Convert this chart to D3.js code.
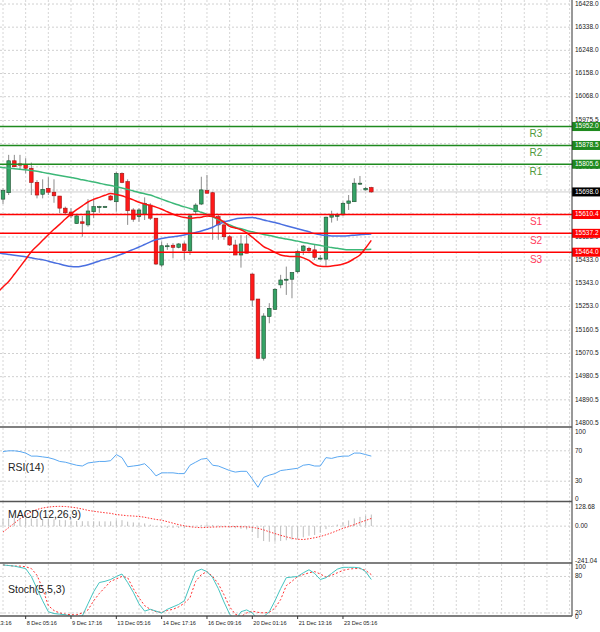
<!DOCTYPE html>
<html>
<head>
<meta charset="utf-8">
<script src="https://cdn.jsdelivr.net/npm/d3@7"></script>
<style>
  body { margin: 0; background: #fff; }
  svg { display: block; font-family: "Liberation Sans", Arial, sans-serif; }
</style>
</head>
<body>
<script>
// candles (one per bar, oldest first)
const candleOpen  = [15670, 15695, 15819, 15807, 15805, 15790, 15735, 15689, 15712, 15697, 15682, 15635, 15620, 15575, 15582, 15570, 15621, 15637, 15640, 15682, 15660, 15770, 15738, 15628, 15602, 15612, 15647, 15596, 15414, 15487, 15491, 15483, 15496, 15469, 15621, 15651, 15703, 15695, 15602, 15570, 15524, 15492, 15453, 15496, 15379, 15282, 15052, 15214, 15242, 15337, 15358, 15359, 15388, 15470, 15479, 15473, 15440, 15437, 15600, 15603, 15609, 15654, 15660, 15731, 15706, 15715];
const candleHigh  = [15712, 15842, 15842, 15842, 15829, 15812, 15744, 15747, 15755, 15747, 15682, 15641, 15635, 15609, 15605, 15670, 15673, 15644, 15644, 15686, 15777, 15774, 15747, 15635, 15635, 15677, 15654, 15596, 15505, 15499, 15499, 15499, 15505, 15609, 15654, 15757, 15764, 15699, 15609, 15589, 15531, 15512, 15531, 15531, 15382, 15282, 15227, 15266, 15324, 15376, 15408, 15385, 15473, 15492, 15485, 15492, 15453, 15602, 15625, 15617, 15660, 15686, 15751, 15760, 15718, 15718];
const candleLow   = [15651, 15686, 15794, 15783, 15770, 15686, 15673, 15673, 15686, 15656, 15615, 15612, 15596, 15574, 15524, 15563, 15596, 15617, 15638, 15664, 15621, 15732, 15570, 15582, 15582, 15589, 15589, 15414, 15405, 15473, 15440, 15479, 15434, 15453, 15609, 15647, 15693, 15512, 15512, 15512, 15488, 15453, 15404, 15460, 15252, 15048, 15043, 15188, 15240, 15324, 15298, 15285, 15382, 15453, 15460, 15434, 15434, 15411, 15579, 15586, 15605, 15628, 15660, 15725, 15703, 15695];
const candleClose = [15703, 15819, 15796, 15802, 15790, 15735, 15686, 15708, 15697, 15683, 15635, 15617, 15605, 15605, 15576, 15624, 15641, 15641, 15641, 15667, 15770, 15735, 15625, 15592, 15628, 15654, 15596, 15418, 15489, 15489, 15483, 15496, 15470, 15605, 15647, 15706, 15693, 15602, 15570, 15524, 15492, 15453, 15496, 15460, 15278, 15052, 15216, 15246, 15320, 15356, 15359, 15385, 15466, 15488, 15470, 15444, 15441, 15600, 15609, 15607, 15654, 15663, 15732, 15732, 15712, 15698];

// moving averages, first value belongs to bar -1 (just off the left edge)
const maStart = -1;
const maRed   = [15306, 15329, 15350, 15378, 15407, 15436, 15466, 15488, 15510, 15532, 15553, 15572, 15593, 15612, 15629, 15644, 15659, 15669, 15677, 15685, 15692, 15688, 15683, 15675, 15667, 15658, 15651, 15645, 15639, 15631, 15621, 15612, 15604, 15599, 15596, 15598, 15600, 15605, 15603, 15595, 15581, 15564, 15558, 15551, 15539, 15522, 15504, 15486, 15475, 15463, 15453, 15449, 15447, 15447, 15442, 15432, 15416, 15409, 15408, 15410, 15413, 15418, 15426, 15439, 15453, 15480, 15510];
const maGreen = [15795, 15793, 15790, 15788, 15786, 15784, 15781, 15778, 15774, 15770, 15766, 15762, 15758, 15754, 15750, 15745, 15741, 15737, 15732, 15727, 15723, 15718, 15713, 15708, 15702, 15696, 15691, 15686, 15678, 15670, 15662, 15654, 15647, 15640, 15634, 15627, 15619, 15611, 15601, 15590, 15579, 15570, 15561, 15555, 15548, 15543, 15538, 15533, 15529, 15524, 15519, 15515, 15511, 15507, 15502, 15498, 15494, 15490, 15486, 15482, 15479, 15475, 15473, 15473, 15473, 15474, 15475];
const maBlue  = [15461, 15458, 15455, 15452, 15449, 15446, 15442, 15438, 15435, 15429, 15423, 15418, 15412, 15408, 15407, 15410, 15415, 15422, 15430, 15436, 15442, 15449, 15457, 15466, 15475, 15484, 15494, 15504, 15512, 15517, 15521, 15524, 15527, 15531, 15536, 15541, 15546, 15553, 15561, 15572, 15581, 15587, 15593, 15596, 15598, 15599, 15595, 15589, 15584, 15579, 15573, 15567, 15561, 15555, 15549, 15543, 15536, 15532, 15529, 15527, 15527, 15527, 15528, 15530, 15532, 15534, 15535];

// support / resistance
const levelNames  = ["R3", "R2", "R1", "S1", "S2", "S3"];
const levelValues = [15952.0, 15878.5, 15805.6, 15610.4, 15537.2, 15464.0];
const lastPrice = 15698.0;

const priceTicks = [16428.0, 16338.0, 16248.0, 16158.0, 16068.0, 15975.5, 15885.5, 15795.5, 15705.5, 15613.0, 15523.0, 15433.0, 15343.0, 15253.0, 15160.5, 15070.5, 14980.5, 14890.5, 14800.5];

// indicators
const rsiValues = [69, 70, 70, 69, 67, 63, 63, 62, 61, 59, 56, 55, 53, 51, 50, 54, 55, 56, 56, 57, 65, 61, 49, 50, 51, 53, 46, 37, 41, 41, 41, 40, 40, 51, 55, 59, 60, 51, 50, 47, 44, 42, 43, 43, 33, 22, 35, 38, 40, 44, 45, 46, 47, 51, 52, 50, 50, 61, 60, 62, 63, 63, 67, 67, 65, 63];
const rsiTicks = [100, 70, 30, 0];

const macdMain   = [50, 52, 55, 55, 55, 52, 50, 48, 47, 45, 42, 40, 38, 35, 33, 33, 33, 32, 32, 32, 40, 40, 30, 25, 20, 18, 10, -5, -10, -12, -12, -12, -14, -5, 2, 8, 12, 8, 4, -2, -8, -14, -18, -22, -40, -80, -100, -105, -105, -100, -95, -90, -85, -75, -65, -60, -45, -20, -5, 10, 25, 38, 52, 62, 70, 78];
const macdSignal = [-40, -10, 20, 50, 75, 95, 112, 122, 128, 132, 133, 132, 128, 123, 115, 106, 100, 95, 90, 86, 78, 74, 70, 68, 65, 60, 52, 45, 40, 30, 20, 10, 2, -4, -8, -10, -8, -6, -5, -4, -4, -3, -4, -5, -8, -15, -25, -38, -50, -62, -72, -82, -88, -90, -85, -78, -70, -58, -45, -30, -15, -3, 10, 25, 38, 52];
const macdTicks = [128.68, 0, -241.04];

const stochMain   = [99, 98, 97, 95, 93, 80, 60, 40, 22, 19, 18, 17, 15, 14, 15, 35, 55, 70, 72, 75, 80, 84, 70, 54, 35, 23, 26, 23, 20, 26, 30, 34, 40, 65, 88, 92, 88, 78, 60, 38, 18, 8, 22, 25, 20, 10, 14, 22, 40, 60, 78, 79, 80, 86, 91, 85, 75, 78, 85, 92, 95, 95, 95, 94, 88, 75];
const stochSignal = [99, 98, 97, 97, 96, 93, 82, 60, 32, 24, 20, 18, 17, 17, 20, 25, 40, 52, 62, 72, 76, 80, 78, 60, 45, 32, 26, 22, 21, 24, 26, 30, 36, 45, 72, 83, 88, 80, 68, 50, 30, 18, 14, 20, 23, 21, 20, 21, 28, 42, 65, 72, 80, 83, 86, 88, 84, 79, 82, 86, 90, 92, 93, 93, 90, 83];
const stochTicks = [100, 80, 20, 0];

const timeLabels    = ["6 Dec 13:16", "8 Dec 05:16", "9 Dec 17:16", "13 Dec 05:16", "14 Dec 17:16", "16 Dec 09:16", "20 Dec 01:16", "21 Dec 13:16", "23 Dec 05:16"];
const timeTickIndex = [-4, 4, 12, 20, 28, 36, 44, 52, 60];

// ---------------------------------------------------------------
const W = 600, H = 632, axisX = 572;
const panel = {
    main:  { top: 0,   bottom: 427 },
    rsi:   { top: 428, bottom: 501 },
    macd:  { top: 502, bottom: 563 },
    stoch: { top: 564, bottom: 616 }
};

const svg = d3.select("body").append("svg").attr("width", W).attr("height", H);
const defs = svg.append("defs");

const x = d3.scaleLinear().domain([0, 65]).range([3, 371.3]);
const yMain  = d3.scaleLinear().domain([14800.5, 16428]).range([423, 4]);
const yRsi   = d3.scaleLinear().domain([0, 100]).range([504, 428]);
const yMacd  = d3.scaleLinear().domain([-241.04, 128.68]).range([562, 507]);
const yStoch = d3.scaleLinear().domain([0, 100]).range([625.1, 564.3]);

function makePanel(name) {
    const p = panel[name];
    defs.append("clipPath").attr("id", "clip-" + name)
        .append("rect").attr("x", 0).attr("y", p.top)
        .attr("width", axisX).attr("height", p.bottom - p.top);
    const g = svg.append("g").attr("clip-path", "url(#clip-" + name + ")");
    // vertical grid every 4 bars
    g.selectAll(".vgrid").data(d3.range(0, 101, 4)).enter()
        .append("line").attr("class", "vgrid")
        .attr("x1", d => x(d)).attr("x2", d => x(d))
        .attr("y1", p.top).attr("y2", p.bottom)
        .attr("stroke", "#d6d6d6").attr("stroke-dasharray", "2,2");
    return g;
}

function hGrid(g, values, scale) {
    g.selectAll(null).data(values).enter().append("line")
        .attr("x1", 0).attr("x2", axisX)
        .attr("y1", d => scale(d)).attr("y2", d => scale(d))
        .attr("stroke", "#d0d0d0").attr("stroke-dasharray", "2,2");
}

function axisLabels(values, scale, p, fmt, lo, hi) {
    svg.selectAll(null).data(values).enter().append("text")
        .attr("x", axisX + 3)
        .attr("y", d => Math.max(p.top + lo, Math.min(p.bottom + hi, scale(d))))
        .attr("dominant-baseline", "middle")
        .attr("font-size", 6.5).attr("fill", "#222")
        .text(fmt);
}

// ---------------- main price panel ----------------
const gMain = makePanel("main");
hGrid(gMain, priceTicks, yMain);

// last price line
gMain.append("line").attr("x1", 0).attr("x2", axisX)
    .attr("y1", yMain(lastPrice)).attr("y2", yMain(lastPrice))
    .attr("stroke", "#cfcfcf").attr("stroke-width", 1);

const bars = candleOpen.map((o, i) => ({ i: i, o: o, h: candleHigh[i], l: candleLow[i], c: candleClose[i] }));
const bw = 3.6;

gMain.selectAll(".wick").data(bars).enter().append("line")
    .attr("class", "wick")
    .attr("x1", d => x(d.i)).attr("x2", d => x(d.i))
    .attr("y1", d => yMain(d.h)).attr("y2", d => yMain(d.l))
    .attr("stroke", "#8c8c8c").attr("stroke-width", 1);

gMain.selectAll(".body").data(bars).enter().append("rect")
    .attr("class", "body")
    .attr("x", d => x(d.i) - bw / 2).attr("width", bw)
    .attr("y", d => yMain(Math.max(d.o, d.c)))
    .attr("height", d => Math.max(1, Math.abs(yMain(d.o) - yMain(d.c))))
    .attr("fill", d => d.c >= d.o ? "#35a366" : "#ff1a1a")
    .attr("stroke", d => d.c >= d.o ? "#1d4d2e" : "#a01010")
    .attr("stroke-width", 0.6);

function maLine(values, color) {
    const line = d3.line().x((d, i) => x(i + maStart)).y(d => yMain(d)).curve(d3.curveMonotoneX);
    gMain.append("path").datum(values).attr("d", line)
        .attr("fill", "none").attr("stroke", color).attr("stroke-width", 1.5);
}
maLine(maGreen, "#3cb878");
maLine(maBlue, "#4a6fe0");
maLine(maRed, "#ff1010");

const levels = levelNames.map((n, i) => ({ name: n, v: levelValues[i], res: n[0] === "R" }));

gMain.selectAll(".level").data(levels).enter().append("line")
    .attr("class", "level")
    .attr("x1", 0).attr("x2", axisX)
    .attr("y1", d => yMain(d.v)).attr("y2", d => yMain(d.v))
    .attr("stroke", d => d.res ? "#1f8a1f" : "#ff0000").attr("stroke-width", 1.5);

gMain.selectAll(".lname").data(levels).enter().append("text")
    .attr("class", "lname")
    .attr("x", 536).attr("y", d => yMain(d.v) + 8)
    .attr("text-anchor", "middle").attr("dominant-baseline", "middle")
    .attr("font-size", 10)
    .attr("fill", d => d.res ? "#4f9a3c" : "#ff4060")
    .text(d => d.name);

// price boxes on the axis
const boxes = levels.map(d => ({ v: d.v, fill: d.res ? "#1f8a1f" : "#ff0000" }))
    .concat([{ v: lastPrice, fill: "#000" }]);

// tick labels that sit right under a box are not drawn
const visibleTicks = priceTicks.filter(t => boxes.every(b => Math.abs(yMain(t) - yMain(b.v)) >= 2.5));
axisLabels(visibleTicks, yMain, panel.main, d => d.toFixed(1), 4.5, -1);

const gBox = svg.selectAll(".box").data(boxes).enter().append("g").attr("class", "box");
gBox.append("rect")
    .attr("x", axisX).attr("width", W - axisX)
    .attr("y", d => yMain(d.v) - 4.5).attr("height", 9)
    .attr("fill", d => d.fill);
gBox.append("text")
    .attr("x", axisX + 3).attr("y", d => yMain(d.v))
    .attr("dominant-baseline", "middle")
    .attr("font-size", 6.5).attr("fill", "#fff")
    .text(d => d.v.toFixed(1));

// ---------------- RSI ----------------
const gRsi = makePanel("rsi");
hGrid(gRsi, [70, 30], yRsi);
gRsi.append("path").datum(rsiValues)
    .attr("d", d3.line().x((d, i) => x(i)).y(d => yRsi(d)))
    .attr("fill", "none").attr("stroke", "#5aa8f2").attr("stroke-width", 1);
axisLabels(rsiTicks, yRsi, panel.rsi, d => d, 4.5, -2);

// ---------------- MACD ----------------
const gMacd = makePanel("macd");
hGrid(gMacd, [0], yMacd);
gMacd.selectAll(".hist").data(macdMain).enter().append("line")
    .attr("x1", (d, i) => x(i)).attr("x2", (d, i) => x(i))
    .attr("y1", yMacd(0)).attr("y2", d => yMacd(d))
    .attr("stroke", "#bdbdbd").attr("stroke-width", 1);
gMacd.append("path").datum(macdSignal)
    .attr("d", d3.line().x((d, i) => x(i)).y(d => yMacd(d)))
    .attr("fill", "none").attr("stroke", "#ff3030").attr("stroke-width", 1)
    .attr("stroke-dasharray", "1.5,1.5");
axisLabels(macdTicks, yMacd, panel.macd, d => d.toFixed(2), 4.5, -2);

// ---------------- Stochastic ----------------
const gSt = makePanel("stoch");
hGrid(gSt, [80, 20], yStoch);
gSt.append("path").datum(stochSignal)
    .attr("d", d3.line().x((d, i) => x(i)).y(d => yStoch(d)))
    .attr("fill", "none").attr("stroke", "#ff3030").attr("stroke-width", 1)
    .attr("stroke-dasharray", "2,2");
gSt.append("path").datum(stochMain)
    .attr("d", d3.line().x((d, i) => x(i)).y(d => yStoch(d)))
    .attr("fill", "none").attr("stroke", "#45c4c0").attr("stroke-width", 1);
axisLabels(stochTicks, yStoch, panel.stoch, d => d, 3.5, 1.5);

// indicator names
const names = [["RSI(14)", 468], ["MACD(12,26,9)", 515.5], ["Stoch(5,5,3)", 590.5]];
svg.selectAll(".iname").data(names).enter().append("text")
    .attr("x", 8).attr("y", d => d[1])
    .attr("dominant-baseline", "middle")
    .attr("font-size", 10.5).attr("fill", "#222")
    .text(d => d[0]);

// ---------------- frame ----------------
svg.append("line").attr("x1", axisX).attr("x2", axisX).attr("y1", 0).attr("y2", panel.stoch.bottom)
    .attr("stroke", "#333").attr("stroke-width", 1);
const seps = [panel.main.bottom, panel.macd.top - 0.5, panel.macd.bottom, panel.stoch.bottom];
svg.selectAll(".sep").data(seps).enter().append("line")
    .attr("x1", 0).attr("x2", axisX)
    .attr("y1", d => d).attr("y2", d => d)
    .attr("stroke", "#555").attr("stroke-width", 1.5);

// time axis
svg.selectAll(".tmark").data(timeTickIndex).enter().append("line")
    .attr("x1", d => x(d)).attr("x2", d => x(d))
    .attr("y1", panel.stoch.bottom).attr("y2", panel.stoch.bottom + 3)
    .attr("stroke", "#333");
svg.selectAll(".tlabel").data(timeLabels).enter().append("text")
    .attr("x", (d, i) => x(timeTickIndex[i]) + 1)
    .attr("y", 624)
    .attr("dominant-baseline", "middle")
    .attr("font-size", 5.6).attr("fill", "#222")
    .text(d => d);
</script>
</body>
</html>
